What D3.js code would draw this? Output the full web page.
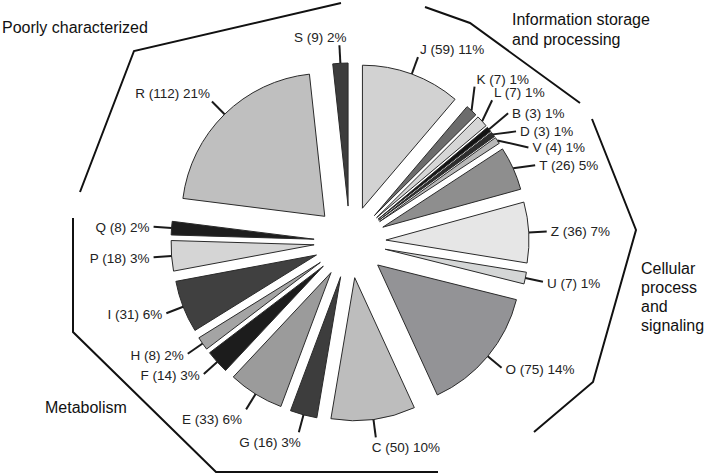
<!DOCTYPE html>
<html>
<head>
  <meta charset="utf-8" />
  <title>COG categories</title>
  <script type="text/javascript" src="https://cdn.jsdelivr.net/npm/d3@7/dist/d3.min.js"></script>
  <style type="text/css">
  body {
    margin: 0;
    background: #fff;
    font-family: "Liberation Sans", Arial, Helvetica, sans-serif;
  }

  .slice {
    stroke: #2a2a2a;
    stroke-width: 1px;
  }

  .leader {
    stroke: #1a1a1a;
    stroke-width: 2px;
  }

  .lbl {
    font-size: 13.5px;
    fill: #222;
  }

  .group {
    font-size: 16px;
    fill: #111;
  }

  .bracket {
    fill: none;
    stroke: #111;
    stroke-width: 2px;
  }
  </style>
</head>
<body>
  <script type="text/javascript">
    // COG categories, clockwise from 12 o'clock
    var categories = ['J', 'K', 'L', 'B', 'D', 'V', 'T', 'Z', 'U', 'O', 'C', 'G', 'E', 'F', 'H', 'I', 'P', 'Q', 'R', 'S']
    var counts     = [59, 7, 7, 3, 3, 4, 26, 36, 7, 75, 50, 16, 33, 14, 8, 31, 18, 8, 112, 9]
    var fills      = ['#d2d2d2', '#6c6c6c', '#d6d6d6', '#141414', '#2e2e2e', '#b8b8b8', '#8e8e8e', '#e6e6e6', '#d4d6d6', '#939396',
                      '#bdbdbd', '#3d3d3d', '#9b9b9b', '#1c1c1c', '#a4a4a4', '#404040', '#d5d5d5', '#1d1d1d', '#bfbfbf', '#3c3c3c']

    // functional groups and their bracket outlines
    var groupNames = [['Poorly characterized'], ['Information storage', 'and processing'], ['Cellular', 'process', 'and', 'signaling'], ['Metabolism']]
    var groupText  = [[2, 33, 20], [512, 25, 20], [641, 274, 19], [45, 413, 19]]
    var brackets   = [
      [[80, 192], [134, 51], [341, 3]],
      [[425, 7], [470, 23], [580, 103]],
      [[592, 119], [636, 230], [593, 382], [534, 432]],
      [[73, 218], [73, 332], [216, 472], [438, 472]]
    ]

    // leader nudges for the crowded small slices (leader vector dx, dy)
    var leaderNudge = { K: [3, -24], L: [10, -21], B: [19, -16], D: [23, -3], V: [31, 7], T: [22, -3] }
    var textNudge = { S: [9, 0], C: [-8, 0], G: [6, 0] }

    var w = 708,
        h = 475,
        cx = 350,
        cy = 242,
        r = 143,
        explode = 36,
        total = d3.sum(counts)

    var data = categories.map(function(c, i) {
      return { cat: c, n: counts[i], fill: fills[i] }
    })

    var pie = d3.pie()
      .sort(null)
      .value(function(d) { return d.n })

    var arc = d3.arc()
      .innerRadius(0)
      .outerRadius(r)

    var svg = d3.select(document.body)
      .append('svg')
      .attr('width', w)
      .attr('height', h)

    var vis = svg.append('g')
      .attr('transform', 'translate(' + cx + ',' + cy + ')')

    var arcs = pie(data)

    function polar(a, rad) {
      return [rad * Math.sin(a), -rad * Math.cos(a)]
    }

    vis.selectAll('path.slice')
      .data(arcs)
    .enter().append('path')
      .attr('class', 'slice')
      .attr('d', arc)
      .attr('fill', function(d) { return d.data.fill })
      .attr('transform', function(d) {
        var p = polar((d.startAngle + d.endAngle) / 2, explode)
        return 'translate(' + p[0] + ',' + p[1] + ')'
      })

    arcs.forEach(function(d) {
      var a = (d.startAngle + d.endAngle) / 2,
          s = polar(a, r + explode),
          e = polar(a, r + explode + 18),
          nudge = leaderNudge[d.data.cat]
      if (nudge) e = [s[0] + nudge[0], s[1] + nudge[1]]

      vis.append('line')
        .attr('class', 'leader')
        .attr('x1', s[0]).attr('y1', s[1])
        .attr('x2', e[0]).attr('y2', e[1])

      var sin = Math.sin(a), cos = Math.cos(a),
          anchor = sin > 0 ? 'start' : 'end',
          tx = e[0] + (sin > 0 ? 4 : -4),
          ty
      if (nudge && d.data.cat !== 'K' && d.data.cat !== 'L') {
        ty = e[1] + 5
      } else if (cos > 0.6) {
        ty = e[1] - 3
        tx = e[0] + (sin > 0 ? 2 : -2)
      } else if (cos < -0.7) {
        ty = e[1] + 15
      } else {
        ty = e[1] + (cos < 0 ? 6 : 5)
      }
      var tn = textNudge[d.data.cat]
      if (tn) { tx += tn[0]; ty += tn[1] }

      vis.append('text')
        .attr('class', 'lbl')
        .attr('x', tx)
        .attr('y', ty)
        .attr('text-anchor', anchor)
        .text(d.data.cat + ' (' + d.data.n + ') ' + Math.round(d.data.n / total * 100) + '%')
    })

    // group brackets and names
    var line = d3.line()
    svg.selectAll('path.bracket')
      .data(brackets)
    .enter().append('path')
      .attr('class', 'bracket')
      .attr('d', line)

    groupNames.forEach(function(lines, i) {
      var t = svg.append('text')
        .attr('class', 'group')
        .attr('x', groupText[i][0])
        .attr('y', groupText[i][1])
      lines.forEach(function(s, j) {
        t.append('tspan')
          .attr('x', groupText[i][0])
          .attr('dy', j === 0 ? 0 : groupText[i][2])
          .text(s)
      })
    })
  </script>
</body>
</html>
